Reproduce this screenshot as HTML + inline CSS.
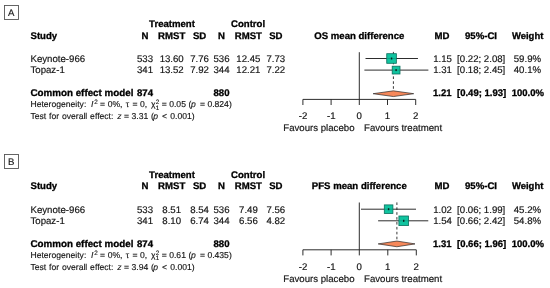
<!DOCTYPE html>
<html><head><meta charset="utf-8"><title>Forest plots</title>
<style>
html,body{margin:0;padding:0;background:#fff;}
svg{display:block;text-rendering:geometricPrecision;font-family:"Liberation Sans",Arial,Helvetica,sans-serif;fill:#151515;}
text{stroke:#151515;stroke-width:0.18px;}
text.b{font-weight:bold;fill:#000;stroke:#000;stroke-width:0.3px;}
text.s{stroke-width:0.15px;}
</style></head><body>
<svg width="550" height="288" viewBox="0 0 550 288">
<rect width="550" height="288" fill="#fff"/>
<rect x="4.5" y="5.50" width="14" height="14" fill="#fff" stroke="#555" stroke-width="0.9"/>
<text x="11.15" y="15.85" font-size="9.6" text-anchor="middle" class="s">A</text>
<text x="172.00" y="27.35" font-size="9.6" text-anchor="middle" class="b">Treatment</text>
<text x="248.10" y="27.35" font-size="9.6" text-anchor="middle" class="b">Control</text>
<text x="30.50" y="38.70" font-size="9.6" class="b">Study</text>
<text x="145.00" y="38.70" font-size="9.6" text-anchor="middle" class="b">N</text>
<text x="171.70" y="38.70" font-size="9.6" text-anchor="middle" class="b">RMST</text>
<text x="199.60" y="38.70" font-size="9.6" text-anchor="middle" class="b">SD</text>
<text x="221.50" y="38.70" font-size="9.6" text-anchor="middle" class="b">N</text>
<text x="248.40" y="38.70" font-size="9.6" text-anchor="middle" class="b">RMST</text>
<text x="275.80" y="38.70" font-size="9.6" text-anchor="middle" class="b">SD</text>
<text x="359.30" y="38.70" font-size="9.6" text-anchor="middle" class="b">OS mean difference</text>
<text x="442.00" y="38.70" font-size="9.6" text-anchor="middle" class="b">MD</text>
<text x="481.00" y="38.70" font-size="9.6" text-anchor="middle" class="b">95%-CI</text>
<text x="543.30" y="38.70" font-size="9.45" text-anchor="end" class="b">Weight</text>
<text x="30.50" y="61.90" font-size="9.65">Keynote-966</text>
<text x="145.00" y="61.90" font-size="9.65" text-anchor="middle">533</text>
<text x="171.70" y="61.90" font-size="9.65" text-anchor="middle">13.60</text>
<text x="199.60" y="61.90" font-size="9.65" text-anchor="middle">7.76</text>
<text x="221.50" y="61.90" font-size="9.65" text-anchor="middle">536</text>
<text x="248.40" y="61.90" font-size="9.65" text-anchor="middle">12.45</text>
<text x="275.80" y="61.90" font-size="9.65" text-anchor="middle">7.73</text>
<text x="442.50" y="61.90" font-size="9.65" text-anchor="middle">1.15</text>
<text x="481.20" y="61.90" font-size="9.65" text-anchor="middle">[0.22; 2.08]</text>
<text x="527.40" y="61.90" font-size="9.65" text-anchor="middle">59.9%</text>
<text x="30.50" y="73.40" font-size="9.65">Topaz-1</text>
<text x="145.00" y="73.40" font-size="9.65" text-anchor="middle">341</text>
<text x="171.70" y="73.40" font-size="9.65" text-anchor="middle">13.52</text>
<text x="199.60" y="73.40" font-size="9.65" text-anchor="middle">7.92</text>
<text x="221.50" y="73.40" font-size="9.65" text-anchor="middle">344</text>
<text x="248.40" y="73.40" font-size="9.65" text-anchor="middle">12.21</text>
<text x="275.80" y="73.40" font-size="9.65" text-anchor="middle">7.22</text>
<text x="442.50" y="73.40" font-size="9.65" text-anchor="middle">1.31</text>
<text x="481.20" y="73.40" font-size="9.65" text-anchor="middle">[0.18; 2.45]</text>
<text x="527.40" y="73.40" font-size="9.65" text-anchor="middle">40.1%</text>
<text x="30.50" y="96.40" font-size="9.8" class="b">Common effect model</text>
<text x="145.00" y="96.40" font-size="9.6" text-anchor="middle" class="b">874</text>
<text x="221.50" y="96.40" font-size="9.6" text-anchor="middle" class="b">880</text>
<text x="442.30" y="96.40" font-size="9.5" text-anchor="middle" class="b">1.21</text>
<text x="481.60" y="96.40" font-size="9.5" text-anchor="middle" class="b">[0.49; 1.93]</text>
<text x="544.00" y="96.40" font-size="9.5" text-anchor="end" class="b">100.0%</text>
<text class="s" x="30.5" y="107.40" font-size="8.6" letter-spacing="-0.01">Heterogeneity:</text>
<text class="s" x="91.0" y="107.40" font-size="8.6" font-style="italic">I</text>
<text class="s" x="94.3" y="103.90" font-size="6.3">2</text>
<text class="s" x="100.0" y="107.40" font-size="8.6">=</text>
<text class="s" x="107.7" y="107.40" font-size="8.6">0%,</text>
<text class="s" x="125.8" y="107.40" font-size="8.6">τ</text>
<text class="s" x="132.6" y="107.40" font-size="8.6">=</text>
<text class="s" x="139.9" y="107.40" font-size="8.6">0,</text>
<text class="s" x="151.0" y="107.40" font-size="8.6">χ</text>
<text class="s" x="155.7" y="103.90" font-size="6.3">2</text>
<text class="s" x="155.7" y="109.50" font-size="6.3">1</text>
<text class="s" x="161.8" y="107.40" font-size="8.6">=</text>
<text class="s" x="169.2" y="107.40" font-size="8.6">0.05</text>
<text class="s" x="188.4" y="107.40" font-size="8.6">(</text>
<text class="s" x="191.0" y="107.40" font-size="8.6" font-style="italic">p</text>
<text class="s" x="200.0" y="107.40" font-size="8.6">=</text>
<text class="s" x="207.4" y="107.40" font-size="8.6">0.824)</text>
<text class="s" x="30.5" y="118.90" font-size="8.6" word-spacing="0.45">Test for overall effect:</text>
<text class="s" x="117.3" y="118.90" font-size="8.6" font-style="italic">z</text>
<text class="s" x="124.1" y="118.90" font-size="8.6">=</text>
<text class="s" x="131.6" y="118.90" font-size="8.6">3.31</text>
<text class="s" x="151.1" y="118.90" font-size="8.6">(</text>
<text class="s" x="153.3" y="118.90" font-size="8.6" font-style="italic">p</text>
<text class="s" x="162.0" y="118.90" font-size="8.6">&lt;</text>
<text class="s" x="170.3" y="118.90" font-size="8.6">0.001)</text>
<g stroke="#222" stroke-width="0.95" fill="none">
<path d="M302.90 105.00V99.40H415.70V105.00M331.10 99.40v5.6M359.30 99.40v5.6M387.50 99.40v5.6"/>
<path d="M359.30 52.20V99.40"/>
<path d="M365.50 58.50H417.96"/>
<path d="M364.38 70.10H428.39"/>
</g>
<path d="M393.40 51.90V90.60" stroke="#222" stroke-width="0.9" stroke-dasharray="2.6 2.3" fill="none"/>
<rect x="386.75" y="53.70" width="9.6" height="9.6" fill="#10c4a0" stroke="#0b6e5c" stroke-width="0.8"/>
<path d="M387.35 58.50h8.40" stroke="#0a7a64" stroke-width="0.8" opacity="0.55"/>
<rect x="390.85" y="57.50" width="1.4" height="2.0" fill="#06241e"/>
<rect x="392.20" y="66.20" width="7.8" height="7.8" fill="#10c4a0" stroke="#0b6e5c" stroke-width="0.8"/>
<path d="M392.80 70.10h6.60" stroke="#0a7a64" stroke-width="0.8" opacity="0.55"/>
<rect x="395.40" y="69.10" width="1.4" height="2.0" fill="#06241e"/>
<path d="M373.10 93.70L393.40 90.85L413.70 93.70L393.40 96.55Z" fill="#f6885a" stroke="#2a2a2a" stroke-width="0.7" stroke-linejoin="miter"/>
<text x="303.10" y="119.30" font-size="9.65" text-anchor="middle">-2</text>
<text x="331.30" y="119.30" font-size="9.65" text-anchor="middle">-1</text>
<text x="359.30" y="119.30" font-size="9.65" text-anchor="middle">0</text>
<text x="387.50" y="119.30" font-size="9.65" text-anchor="middle">1</text>
<text x="415.70" y="119.30" font-size="9.65" text-anchor="middle">2</text>
<text x="354.50" y="131.48" font-size="9.65" text-anchor="end">Favours placebo</text>
<text x="364.00" y="131.48" font-size="9.65">Favours treatment</text>
<rect x="4.5" y="154.50" width="14" height="14" fill="#fff" stroke="#555" stroke-width="0.9"/>
<text x="11.15" y="164.85" font-size="9.6" text-anchor="middle" class="s">B</text>
<text x="172.00" y="177.65" font-size="9.6" text-anchor="middle" class="b">Treatment</text>
<text x="248.10" y="177.65" font-size="9.6" text-anchor="middle" class="b">Control</text>
<text x="30.50" y="189.00" font-size="9.6" class="b">Study</text>
<text x="145.00" y="189.00" font-size="9.6" text-anchor="middle" class="b">N</text>
<text x="171.70" y="189.00" font-size="9.6" text-anchor="middle" class="b">RMST</text>
<text x="199.60" y="189.00" font-size="9.6" text-anchor="middle" class="b">SD</text>
<text x="221.50" y="189.00" font-size="9.6" text-anchor="middle" class="b">N</text>
<text x="248.40" y="189.00" font-size="9.6" text-anchor="middle" class="b">RMST</text>
<text x="275.80" y="189.00" font-size="9.6" text-anchor="middle" class="b">SD</text>
<text x="359.30" y="189.00" font-size="9.6" text-anchor="middle" class="b">PFS mean difference</text>
<text x="442.00" y="189.00" font-size="9.6" text-anchor="middle" class="b">MD</text>
<text x="481.00" y="189.00" font-size="9.6" text-anchor="middle" class="b">95%-CI</text>
<text x="543.30" y="189.00" font-size="9.45" text-anchor="end" class="b">Weight</text>
<text x="30.50" y="212.70" font-size="9.65">Keynote-966</text>
<text x="145.00" y="212.70" font-size="9.65" text-anchor="middle">533</text>
<text x="171.70" y="212.70" font-size="9.65" text-anchor="middle">8.51</text>
<text x="199.60" y="212.70" font-size="9.65" text-anchor="middle">8.54</text>
<text x="221.50" y="212.70" font-size="9.65" text-anchor="middle">536</text>
<text x="248.40" y="212.70" font-size="9.65" text-anchor="middle">7.49</text>
<text x="275.80" y="212.70" font-size="9.65" text-anchor="middle">7.56</text>
<text x="442.50" y="212.70" font-size="9.65" text-anchor="middle">1.02</text>
<text x="481.20" y="212.70" font-size="9.65" text-anchor="middle">[0.06; 1.99]</text>
<text x="527.40" y="212.70" font-size="9.65" text-anchor="middle">45.2%</text>
<text x="30.50" y="224.20" font-size="9.65">Topaz-1</text>
<text x="145.00" y="224.20" font-size="9.65" text-anchor="middle">341</text>
<text x="171.70" y="224.20" font-size="9.65" text-anchor="middle">8.10</text>
<text x="199.60" y="224.20" font-size="9.65" text-anchor="middle">6.74</text>
<text x="221.50" y="224.20" font-size="9.65" text-anchor="middle">344</text>
<text x="248.40" y="224.20" font-size="9.65" text-anchor="middle">6.56</text>
<text x="275.80" y="224.20" font-size="9.65" text-anchor="middle">4.82</text>
<text x="442.50" y="224.20" font-size="9.65" text-anchor="middle">1.54</text>
<text x="481.20" y="224.20" font-size="9.65" text-anchor="middle">[0.66; 2.42]</text>
<text x="527.40" y="224.20" font-size="9.65" text-anchor="middle">54.8%</text>
<text x="30.50" y="247.20" font-size="9.8" class="b">Common effect model</text>
<text x="145.00" y="247.20" font-size="9.6" text-anchor="middle" class="b">874</text>
<text x="221.50" y="247.20" font-size="9.6" text-anchor="middle" class="b">880</text>
<text x="442.30" y="247.20" font-size="9.5" text-anchor="middle" class="b">1.31</text>
<text x="481.60" y="247.20" font-size="9.5" text-anchor="middle" class="b">[0.66; 1.96]</text>
<text x="544.00" y="247.20" font-size="9.5" text-anchor="end" class="b">100.0%</text>
<text class="s" x="30.5" y="258.20" font-size="8.6" letter-spacing="-0.01">Heterogeneity:</text>
<text class="s" x="91.0" y="258.20" font-size="8.6" font-style="italic">I</text>
<text class="s" x="94.3" y="254.70" font-size="6.3">2</text>
<text class="s" x="100.0" y="258.20" font-size="8.6">=</text>
<text class="s" x="107.7" y="258.20" font-size="8.6">0%,</text>
<text class="s" x="125.8" y="258.20" font-size="8.6">τ</text>
<text class="s" x="132.6" y="258.20" font-size="8.6">=</text>
<text class="s" x="139.9" y="258.20" font-size="8.6">0,</text>
<text class="s" x="151.0" y="258.20" font-size="8.6">χ</text>
<text class="s" x="155.7" y="254.70" font-size="6.3">2</text>
<text class="s" x="155.7" y="260.30" font-size="6.3">1</text>
<text class="s" x="161.8" y="258.20" font-size="8.6">=</text>
<text class="s" x="169.2" y="258.20" font-size="8.6">0.61</text>
<text class="s" x="188.4" y="258.20" font-size="8.6">(</text>
<text class="s" x="191.0" y="258.20" font-size="8.6" font-style="italic">p</text>
<text class="s" x="200.0" y="258.20" font-size="8.6">=</text>
<text class="s" x="207.4" y="258.20" font-size="8.6">0.435)</text>
<text class="s" x="30.5" y="269.60" font-size="8.6" word-spacing="0.45">Test for overall effect:</text>
<text class="s" x="117.3" y="269.60" font-size="8.6" font-style="italic">z</text>
<text class="s" x="124.1" y="269.60" font-size="8.6">=</text>
<text class="s" x="131.6" y="269.60" font-size="8.6">3.94</text>
<text class="s" x="151.1" y="269.60" font-size="8.6">(</text>
<text class="s" x="153.3" y="269.60" font-size="8.6" font-style="italic">p</text>
<text class="s" x="162.0" y="269.60" font-size="8.6">&lt;</text>
<text class="s" x="170.3" y="269.60" font-size="8.6">0.001)</text>
<g stroke="#222" stroke-width="0.95" fill="none">
<path d="M302.90 255.40V249.80H416.30V255.40M331.10 249.80v5.6M359.30 249.80v5.6M387.80 249.80v5.6"/>
<path d="M359.30 202.50V249.80"/>
<path d="M361.01 209.20H416.01"/>
<path d="M378.11 220.80H428.27"/>
</g>
<path d="M396.90 202.40V240.90" stroke="#222" stroke-width="0.9" stroke-dasharray="2.6 2.3" fill="none"/>
<rect x="384.30" y="204.90" width="8.6" height="8.6" fill="#10c4a0" stroke="#0b6e5c" stroke-width="0.8"/>
<path d="M384.90 209.20h7.40" stroke="#0a7a64" stroke-width="0.8" opacity="0.55"/>
<rect x="387.90" y="208.20" width="1.4" height="2.0" fill="#06241e"/>
<rect x="398.90" y="216.00" width="9.6" height="9.6" fill="#10c4a0" stroke="#0b6e5c" stroke-width="0.8"/>
<path d="M399.50 220.80h8.40" stroke="#0a7a64" stroke-width="0.8" opacity="0.55"/>
<rect x="403.00" y="219.80" width="1.4" height="2.0" fill="#06241e"/>
<path d="M378.20 243.90L396.90 241.05L415.00 243.90L396.90 246.75Z" fill="#f6885a" stroke="#2a2a2a" stroke-width="0.7" stroke-linejoin="miter"/>
<text x="303.10" y="270.10" font-size="9.65" text-anchor="middle">-2</text>
<text x="331.30" y="270.10" font-size="9.65" text-anchor="middle">-1</text>
<text x="359.30" y="270.10" font-size="9.65" text-anchor="middle">0</text>
<text x="387.80" y="270.10" font-size="9.65" text-anchor="middle">1</text>
<text x="416.30" y="270.10" font-size="9.65" text-anchor="middle">2</text>
<text x="354.50" y="282.18" font-size="9.65" text-anchor="end">Favours placebo</text>
<text x="364.00" y="282.18" font-size="9.65">Favours treatment</text>
</svg>
</body></html>
